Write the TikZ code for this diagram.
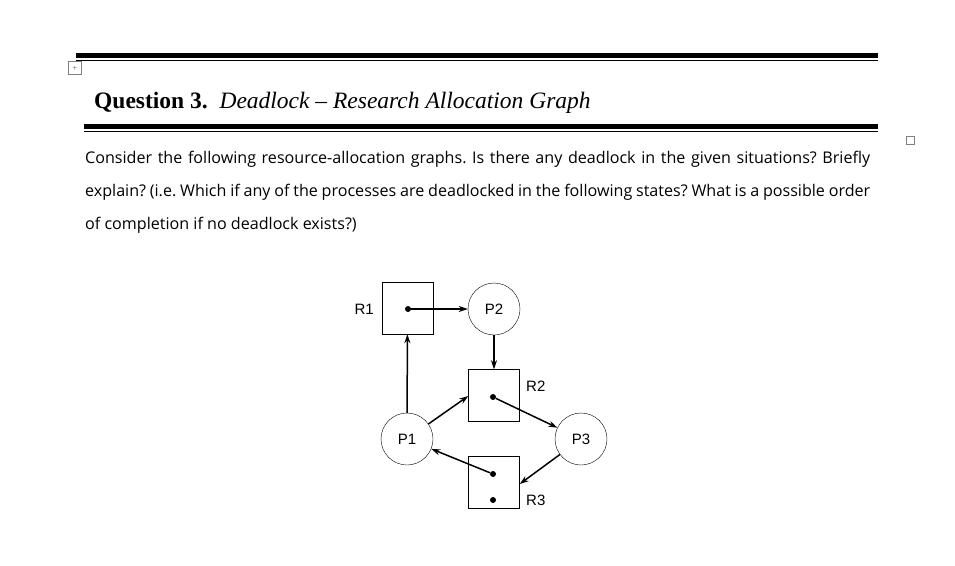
\documentclass[tikz,border=0pt]{standalone}
\usepackage{fontspec}
\setmainfont{Open Sans}
\newfontfamily\titlefont{Liberation Serif}
\newfontfamily\arialf{Liberation Sans}
\usetikzlibrary{arrows.meta}
\begin{document}
\begin{tikzpicture}[x=1pt,y=-1pt,
  res/.style={draw,minimum width=51pt,minimum height=52pt,inner sep=0pt},
  proc/.style={draw,circle,minimum size=52pt,inner sep=0pt,font=\arialf\fontsize{15}{15}\selectfont},
  lab/.style={font=\arialf\fontsize{15}{15}\selectfont,inner sep=0pt},
  dotn/.style={circle,fill,minimum size=6pt,inner sep=0pt},
  edge/.style={-{Stealth[length=9pt,width=6pt]},line width=1.5pt},
  txt/.style={anchor=base west,inner sep=0pt,font=\frenchspacing\fontsize{16.1}{16}\selectfont}]
\useasboundingbox (0,0) rectangle (955,565);
% rules
\fill (76,53) rectangle (878,58);
\draw[line width=0.8pt] (76,60.5) -- (878,60.5);
\fill (84,124) rectangle (878,129);
\draw[line width=0.8pt] (84,131.5) -- (878,131.5);
\node[draw=gray,minimum size=13pt,inner sep=0pt,font=\tiny] (mv) at (75,68) {$+$};
\node[draw=gray,minimum size=8pt,inner sep=0pt] (cb) at (910,140) {};
\node[anchor=base west,inner sep=0pt,font=\titlefont\fontsize{23.5}{23}\selectfont] (title) at (94,108)
  {\textbf{Question 3.}\ \ \textit{Deadlock \textendash\ Research Allocation Graph}};
\node[txt] (l1) at (85,163) {\hbox to 785pt{Consider the following resource-allocation graphs. Is there any deadlock in the given situations? Briefly}};
\node[txt] (l2) at (85,196) {\hbox to 785pt{explain? (i.e. Which if any of the processes are deadlocked in the following states? What is a possible order}};
\node[txt] (l3) at (85,229) {of completion if no deadlock exists?)};
% graph
\node[res] (R1) at (407.5,308) {};
\node[res] (R2) at (494,395.5) {};
\node[res] (R3) at (494,482.5) {};
\node[proc] (P1) at (407,439) {P1};
\node[proc] (P2) at (494,309) {P2};
\node[proc] (P3) at (581,439) {P3};
\node[lab,anchor=east] (lR1) at (374,309) {R1};
\node[lab,anchor=west] (lR2) at (526,386) {R2};
\node[lab,anchor=west] (lR3) at (526,500) {R3};
\node[dotn] (d1) at (408,309) {};
\node[dotn] (d2) at (493,397) {};
\node[dotn] (d3) at (493,474) {};
\node[dotn] (d4) at (493,500) {};
\draw[edge] (d1) -- (P2);
\draw[edge] (P2) -- (R2);
\draw[edge] (P1) -- (R1);
\draw[edge] (P1) -- (R2.west |- 0,396) ;
\draw[edge] (d2) -- (P3);
\draw[edge] (P3) -- (R3.east |- 0,484);
\draw[edge] (d3) -- (P1);
\end{tikzpicture}
\end{document}
